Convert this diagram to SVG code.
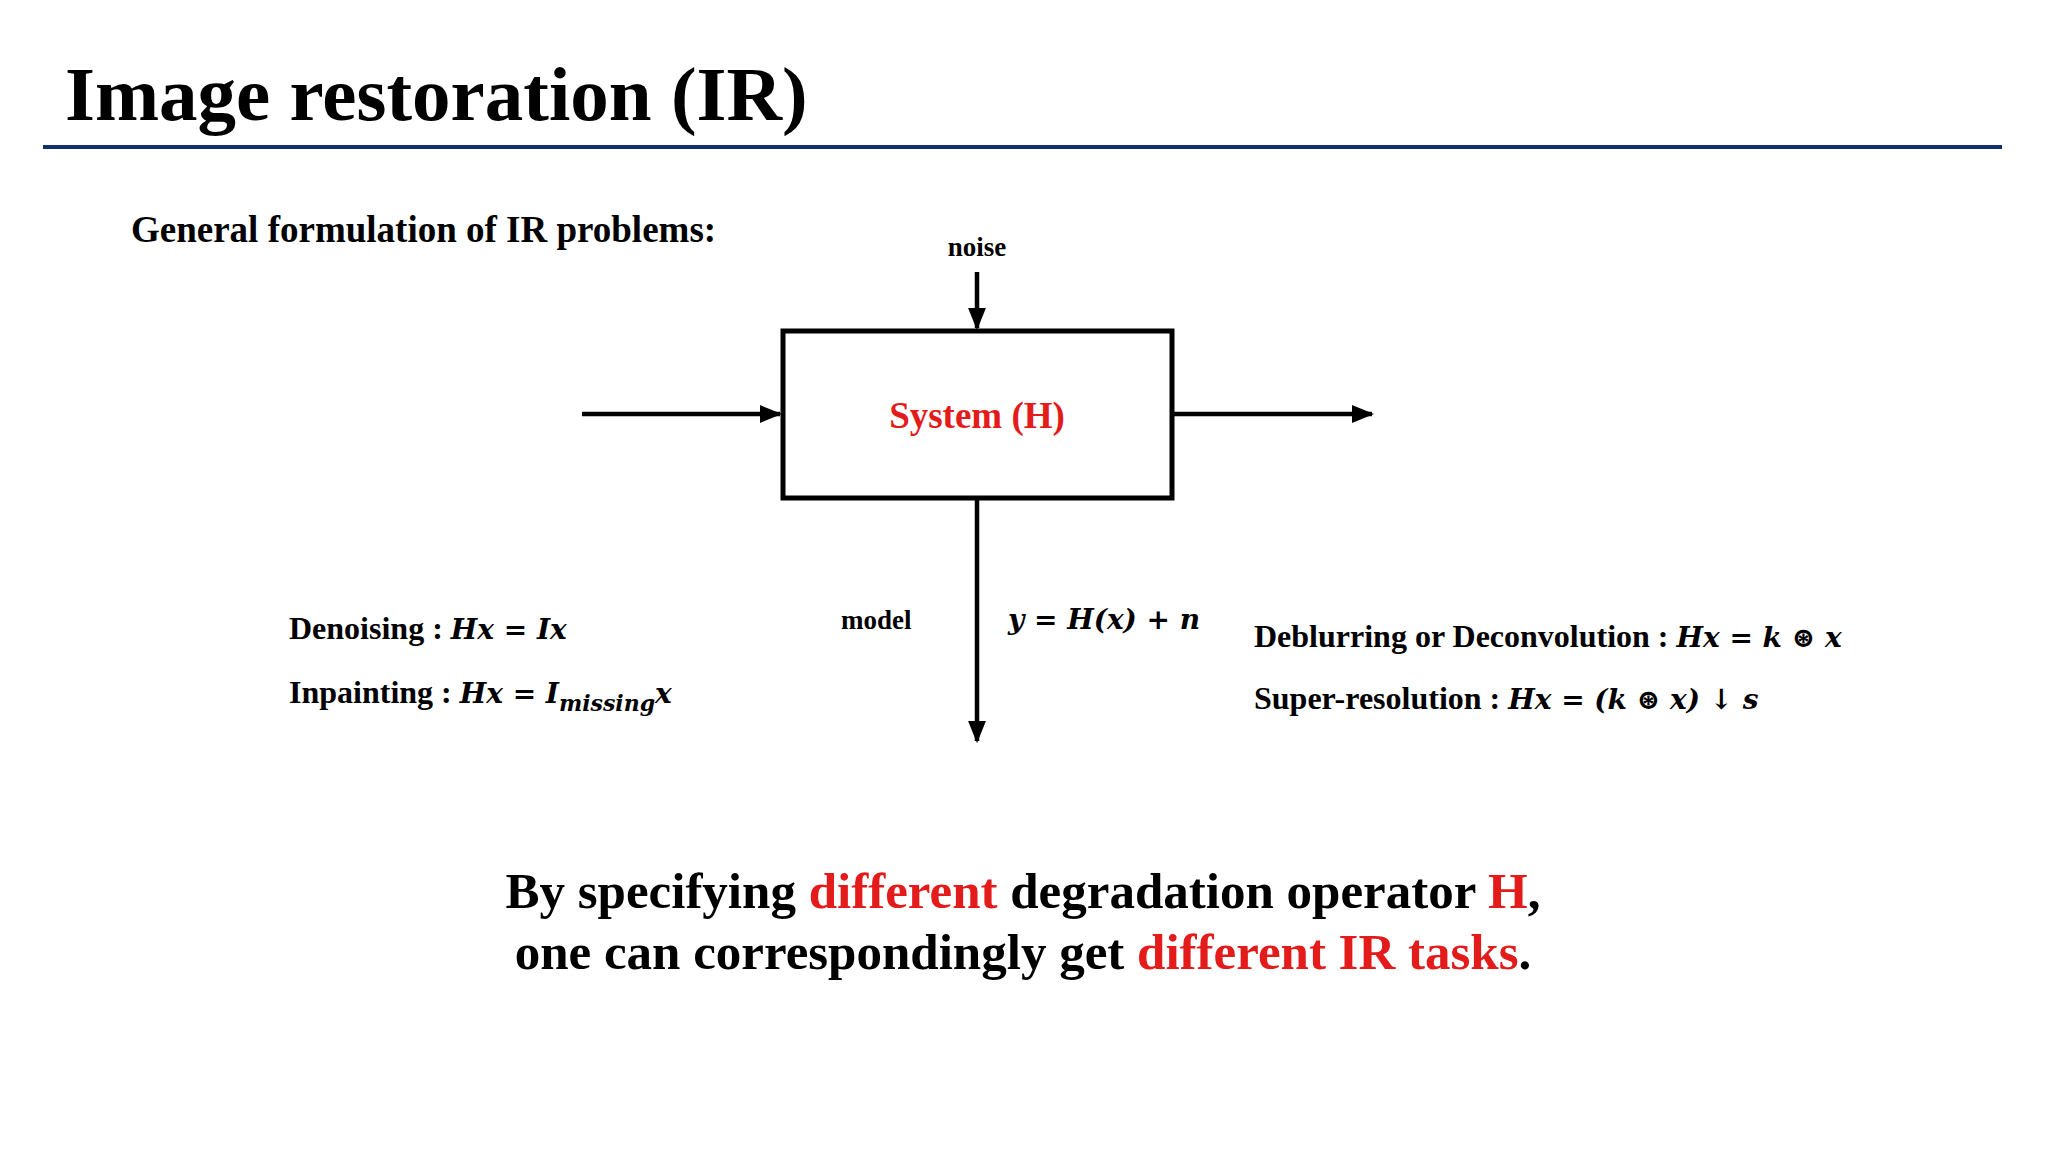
<svg xmlns="http://www.w3.org/2000/svg" width="2048" height="1152" viewBox="0 0 2048 1152">
<defs>
<style>
text{font-family:"Liberation Serif","DejaVu Serif",serif;font-weight:bold;fill:#000}
.m{font-family:"DejaVu Serif",serif;font-style:italic;font-size:28px}
.r{fill:#e31b1b}
.ln{stroke:#000;stroke-width:4.5;fill:none}
</style>
<marker id="ah" viewBox="0 0 10 10" refX="9" refY="5" markerWidth="5" markerHeight="5" orient="auto" markerUnits="strokeWidth"><path d="M0,1 L10,5 L0,9 z" fill="#000"/></marker>
</defs>
<rect width="2048" height="1152" fill="#fff"/>
<text x="65" y="120" font-size="77">Image restoration (IR)</text>
<line x1="43" y1="147" x2="2002" y2="147" stroke="#13306b" stroke-width="4"/>
<text x="131" y="242" font-size="37">General formulation of IR problems:</text>
<g id="connectors">
<line class="ln" x1="977" y1="272" x2="977" y2="328" marker-end="url(#ah)"/>
<line class="ln" x1="582" y1="414" x2="780" y2="414" marker-end="url(#ah)"/>
<line class="ln" x1="1173" y1="414" x2="1372" y2="414" marker-end="url(#ah)"/>
<line class="ln" x1="977" y1="498" x2="977" y2="741" marker-end="url(#ah)"/>
</g>
<g id="system">
<rect x="783" y="331" width="389" height="167" fill="#fff" stroke="#000" stroke-width="5"/>
<text class="r" x="977" y="428" font-size="37" text-anchor="middle">System (H)</text>
</g>
<g id="noise"><text x="977" y="256" font-size="27" text-anchor="middle">noise</text></g>
<g id="model"><text x="841" y="629" font-size="27">model</text>
<text class="m" x="1008" y="629">y = H(x)  + n</text></g>
<g id="left">
<text x="289" y="639" font-size="32">Denoising : <tspan class="m">Hx = Ix</tspan></text>
<text x="289" y="703" font-size="32">Inpainting : <tspan class="m">Hx = I<tspan font-size="22" dy="8">missing</tspan><tspan dy="-8">x</tspan></tspan></text>
</g>
<g id="right">
<text x="1254" y="647" font-size="32">Deblurring or Deconvolution : <tspan class="m">Hx = k ⊛ x</tspan></text>
<text x="1254" y="709" font-size="32">Super-resolution : <tspan class="m">Hx = (k ⊛ x) ↓ s</tspan></text>
</g>
<g id="bottom">
<text x="1023" y="908" font-size="51" text-anchor="middle">By specifying <tspan class="r">different</tspan> degradation operator <tspan class="r">H</tspan>,</text>
<text x="1023" y="969" font-size="51" text-anchor="middle">one can correspondingly get <tspan class="r">different IR tasks</tspan>.</text>
</g>
</svg>
